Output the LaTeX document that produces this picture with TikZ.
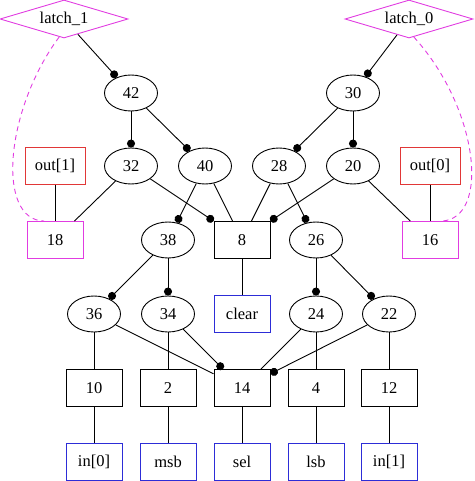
\documentclass[tikz,border=0pt]{standalone}
\usepackage{fontspec}
\setmainfont{Liberation Serif}
\usetikzlibrary{shapes.geometric,arrows.meta}
\definecolor{regpink}{RGB}{225,60,225}
\definecolor{pinblue}{RGB}{45,45,215}
\definecolor{outred}{RGB}{225,55,55}
\tikzset{
  oval/.style={draw,ellipse,minimum width=53pt,minimum height=36pt,inner sep=0pt},
  cell/.style={draw,rectangle,minimum width=56pt,minimum height=37pt,inner sep=0pt},
  pin/.style={cell,draw=pinblue},
  outpin/.style={cell,draw=outred,minimum width=60pt},
  reg/.style={cell,draw=regpink},
  latch/.style={draw=regpink,diamond,aspect=3.4,minimum width=128pt,minimum height=38pt,inner sep=0pt},
  dep/.style={-{Circle[length=8pt]}},
  latchlink/.style={draw=regpink,dash pattern=on 5pt off 4pt}
}
\begin{document}
\begin{tikzpicture}[x=1pt,y=-1pt,line width=0.9pt,font=\fontsize{16.5}{19}\selectfont]
\useasboundingbox (0,0) rectangle (474,481);
% top row
\node[latch] (l1) at (64,19) {latch\_1};
\node[latch] (l0) at (409,19) {latch\_0};
\node[oval] (n42) at (131,93) {42};
\node[oval] (n30) at (353,93) {30};
\node[outpin] (o1) at (55,166) {out[1]};
\node[oval] (n32) at (131,166) {32};
\node[oval] (n40) at (205,166) {40};
\node[oval] (n28) at (279,166) {28};
\node[oval] (n20) at (353,166) {20};
\node[outpin] (o0) at (430,166) {out[0]};
\node[reg] (r18) at (55,240) {18};
\node[oval] (n38) at (168,240) {38};
\node[cell] (c8) at (242,240) {8};
\node[oval] (n26) at (316,240) {26};
\node[reg] (r16) at (430,240) {16};
\node[oval] (n36) at (94,314) {36};
\node[oval] (n34) at (168,314) {34};
\node[pin] (clr) at (242,314) {clear};
\node[oval] (n24) at (316,314) {24};
\node[oval] (n22) at (389,314) {22};
\node[cell] (c10) at (94,388) {10};
\node[cell] (c2) at (168,388) {2};
\node[cell] (c14) at (242,388) {14};
\node[cell] (c4) at (316,388) {4};
\node[cell] (c12) at (389,388) {12};
\node[pin] (in0) at (94,462) {in[0]};
\node[pin] (msb) at (168,462) {msb};
\node[pin] (sel) at (242,462) {sel};
\node[pin] (lsb) at (316,462) {lsb};
\node[pin] (in1) at (389,462) {in[1]};

% latch links
\draw[latchlink] (l1.255) .. controls (5,110) and (-4,220) .. (r18.120);
\draw[latchlink] (l0.285) .. controls (480,110) and (490,220) .. (r16.60);

\draw[dep] (l1) -- (n42);
\draw[dep] (l0) -- (n30);
\draw[dep] (n42) -- (n32);
\draw[dep] (n42) -- (n40);
\draw[dep] (n30) -- (n28);
\draw[dep] (n30) -- (n20);
\draw (o1) -- (r18);
\draw (o0) -- (r16);
\draw (n32) -- (r18);
\draw[dep] (n32) -- (c8);
\draw[dep] (n40) -- (n38);
\draw (n40) -- (c8);
\draw (n28) -- (c8);
\draw[dep] (n28) -- (n26);
\draw[dep] (n20) -- (c8);
\draw (n20) -- (r16);
\draw[dep] (n38) -- (n36);
\draw[dep] (n38) -- (n34);
\draw (c8) -- (clr);
\draw[dep] (n26) -- (n24);
\draw[dep] (n26) -- (n22);
\draw (n36) -- (c10);
\draw (n36) -- (c14);
\draw (n34) -- (c2);
\draw[dep] (n34) -- (c14);
\draw (n24) -- (c4);
\draw (n24) -- (c14);
\draw[dep] (n22) -- (c14);
\draw (n22) -- (c12);
\draw (c10) -- (in0);
\draw (c2) -- (msb);
\draw (c14) -- (sel);
\draw (c4) -- (lsb);
\draw (c12) -- (in1);
\end{tikzpicture}
\end{document}
